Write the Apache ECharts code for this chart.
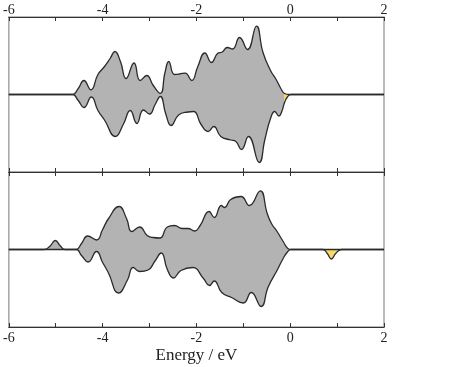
<!DOCTYPE html>
<html>
<head>
<meta charset="utf-8">
<script src="https://cdn.jsdelivr.net/npm/echarts@6/dist/echarts.min.js"></script>
<style>html,body{margin:0;padding:0;background:#fff;}#c{width:474px;height:367px;}</style>
</head>
<body>
<div id="c"></div>
<script>
// Energy (eV) and DOS values (arb. units)
const topUpE = [-6,-4.65,-4.52,-4.40,-4.25,-4.10,-3.96,-3.84,-3.74,-3.62,-3.50,-3.33,-3.20,-3.06,-2.92,-2.77,-2.67,-2.59,-2.47,-2.36,-2.24,-2.10,-1.97,-1.82,-1.68,-1.55,-1.45,-1.34,-1.23,-1.08,-0.91,-0.72,-0.58,-0.42,-0.30,-0.20,-0.12,-0.02,2];
const topUpV = [0,0,0.6,1.4,0.47,2.0,2.8,3.6,4.3,3.3,1.6,3.15,1.4,1.9,0.9,0.12,2.2,3.3,2.0,2.05,2.14,1.4,2.8,4.15,3.2,4.1,4.25,4.7,4.55,5.7,4.5,6.84,4.2,2.4,1.5,0.6,0.1,0,0];

const topDnE = [-6,-4.65,-4.52,-4.40,-4.24,-4.10,-3.96,-3.73,-3.56,-3.41,-3.27,-3.13,-3.0,-2.88,-2.77,-2.65,-2.54,-2.38,-2.18,-2.06,-1.90,-1.75,-1.63,-1.48,-1.27,-1.16,-1.04,-0.89,-0.66,-0.54,-0.42,-0.33,-0.24,-0.18,-0.12,-0.06,0.02,2];
const topDnV = [0,0,-0.6,-1.3,-0.25,-1.6,-2.55,-4.2,-3.0,-1.6,-2.9,-1.55,-1.95,-1.0,-0.2,-2.0,-3.1,-2.05,-1.75,-1.7,-3.0,-3.7,-3.2,-4.2,-4.55,-4.7,-5.5,-4.2,-6.8,-4.5,-2.4,-1.7,-2.15,-1.7,-0.8,-0.25,0,0];

const botUpE = [-6,-5.25,-5.12,-5.01,-4.90,-4.80,-4.57,-4.45,-4.32,-4.13,-4.0,-3.88,-3.65,-3.49,-3.38,-3.21,-3.05,-2.92,-2.78,-2.62,-2.47,-2.30,-2.18,-2.04,-1.92,-1.73,-1.62,-1.47,-1.40,-1.27,-1.05,-0.87,-0.64,-0.49,-0.40,-0.28,-0.15,-0.05,0.02,2];
const botUpV = [0,0,0.35,0.9,0.35,0,0,0.6,1.35,0.95,2.0,3.05,4.3,3.1,1.8,2.25,1.4,1.2,1.15,2.25,2.4,2.1,2.1,1.85,2.4,3.8,3.2,4.4,4.2,5.0,5.3,4.4,5.87,3.6,2.6,1.8,0.8,0.1,0,0];

const botDnE = [-6,-4.57,-4.45,-4.31,-4.13,-4.0,-3.88,-3.66,-3.47,-3.35,-3.21,-3.03,-2.89,-2.75,-2.62,-2.49,-2.33,-2.08,-1.85,-1.72,-1.62,-1.46,-1.25,-1.0,-0.83,-0.62,-0.47,-0.27,-0.15,-0.05,0.02,0.70,0.79,0.88,0.97,1.10,2];
const botDnV = [0,0,-0.6,-1.25,-0.2,-1.3,-2.3,-4.35,-3.05,-1.8,-2.2,-2.05,-1.2,-0.35,-2.0,-2.85,-2.1,-1.8,-2.9,-3.6,-3.15,-4.3,-4.8,-5.35,-4.3,-5.7,-3.75,-2.0,-0.9,-0.2,0,0,-0.4,-0.95,-0.4,0,0];

const fermiTop = -0.13;
const fermiBot = 0;
const xTicks = [-6,-4,-2,0,2];

const zip = (a, b) => a.map((x, i) => [x, b[i]]);
const FONT = "'Liberation Serif', 'DejaVu Serif', serif";
const GREY = '#b3b3b3', YEL = '#f6d96b', LINE = '#2a2a2a';

function xAxis(grid, pos, labels, extra) {
  return Object.assign({
    type: 'value', gridIndex: grid, position: pos, min: -6, max: 2, interval: 1,
    splitLine: { show: false },
    axisLine: { show: true, onZero: false, lineStyle: { color: '#333', width: 1 } },
    axisTick: { show: true, inside: true, length: 4, lineStyle: { color: '#333' } },
    axisLabel: {
      show: labels, color: '#222', fontFamily: FONT, fontSize: 14, margin: pos === 'top' ? 0 : 4,
      formatter: v => xTicks.includes(v) ? String(v) : ''
    }
  }, extra || {});
}
function yAxis(grid) {
  return { type: 'value', gridIndex: grid, min: -7.75, max: 7.75, show: false, splitLine: { show: false } };
}
function ser(x, y, data, origin) {
  return {
    type: 'line', xAxisIndex: x, yAxisIndex: y, data: data, smooth: 0.5,
    showSymbol: false, symbol: 'none',
    lineStyle: { color: LINE, width: 1.3 },
    areaStyle: { opacity: 1, origin: origin }
  };
}

const chart = echarts.init(document.getElementById('c'));
chart.setOption({
  backgroundColor: '#fff',
  animation: false,
  grid: [
    { left: 7, right: 90, top: 17, height: 155, show: true, borderColor: '#a5a5a5', borderWidth: 1.5 },
    { left: 7, right: 90, top: 172, height: 155, show: true, borderColor: '#a5a5a5', borderWidth: 1.5 }
  ],
  xAxis: [
    xAxis(0, 'top', true),
    xAxis(0, 'bottom', false),
    xAxis(1, 'top', false),
    xAxis(1, 'bottom', true, {
      name: 'Energy / eV', nameLocation: 'middle', nameGap: 20,
      nameTextStyle: { fontFamily: FONT, fontSize: 17, color: '#222' }
    })
  ],
  yAxis: [yAxis(0), yAxis(1)],
  visualMap: [
    { type: 'piecewise', show: false, dimension: 0, seriesIndex: [0, 1],
      pieces: [{ gte: -6, lt: fermiTop, color: GREY }, { gte: fermiTop, lte: 2, color: YEL }] },
    { type: 'piecewise', show: false, dimension: 0, seriesIndex: [2, 3],
      pieces: [{ gte: -6, lt: fermiBot, color: GREY }, { gte: fermiBot, lte: 2, color: YEL }] }
  ],
  series: [
    ser(0, 0, zip(topUpE, topUpV), -0.06),
    ser(0, 0, zip(topDnE, topDnV), 0),
    ser(3, 1, zip(botUpE, botUpV), -0.06),
    ser(3, 1, zip(botDnE, botDnV), 0)
  ]
});
</script>
</body>
</html>
